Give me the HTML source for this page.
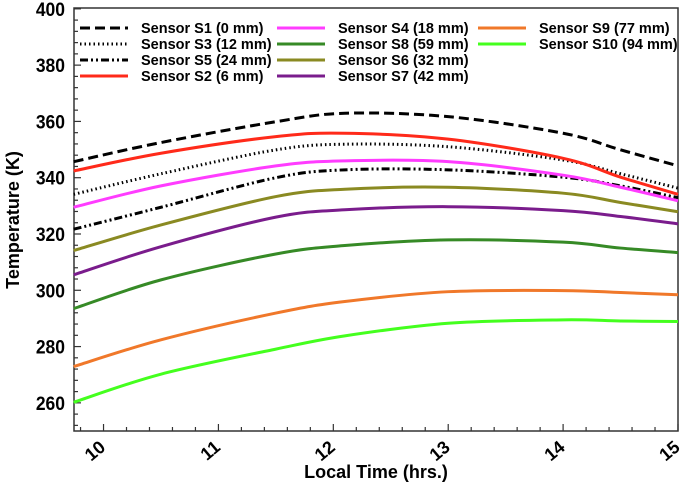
<!DOCTYPE html>
<html><head><meta charset="utf-8"><style>
body{margin:0;background:#fff;}
svg{display:block;font-family:"Liberation Sans",Arial,sans-serif;font-weight:bold;}
</style></head><body>
<svg id="chart" width="685" height="493"></svg>
<script>
const times = [9.74, 10.5, 11.5, 12.1, 13, 14, 14.5, 15];
const s1 = [345.7, 352.5, 359.9, 362.9, 361.7, 355.8, 349.9, 344.2];
const s2 = [342.4, 348.7, 354.6, 355.8, 353.7, 346.9, 340.2, 334.1];
const s3 = [334.1, 341.4, 349.9, 351.9, 351.0, 346.3, 341.4, 336.3];
const s4 = [329.5, 337.1, 344.2, 346.0, 345.7, 340.9, 336.6, 331.8];
const s5 = [321.7, 329.5, 340.0, 342.8, 342.8, 340.2, 337.1, 332.9];
const s6 = [314.1, 323.2, 333.3, 335.9, 336.6, 334.5, 331.2, 327.9];
const s7 = [305.5, 315.5, 326.0, 328.6, 329.7, 328.3, 326.2, 323.6];
const s8 = [293.5, 303.7, 312.9, 315.9, 317.9, 317.1, 315.0, 313.4];
const s9 = [272.9, 282.4, 291.9, 296.0, 299.5, 299.9, 299.2, 298.4];
const s10 = [260.2, 270.2, 279.1, 283.8, 288.3, 289.5, 289.1, 288.9];
const yTicks = [260, 280, 300, 320, 340, 360, 380, 400];
const xTicks = [10, 11, 12, 13, 14, 15];

const NS = "http://www.w3.org/2000/svg";
const svg = document.getElementById('chart');
const L = 74, R = 678, T = 8, B = 431;
const xMin = 9.743, xMax = 15, yMin = 250, yMax = 400.3;
const xs = v => L + (v - xMin) / (xMax - xMin) * (R - L);
const ys = v => B - (v - yMin) / (yMax - yMin) * (B - T);
function mk(tag, attrs, parent) {
  const e = document.createElementNS(NS, tag);
  for (const k in attrs) e.setAttribute(k, attrs[k]);
  (parent || svg).appendChild(e);
  return e;
}
function pathFor(xv, yv) {
  const p = xv.map((x, i) => [xs(x), ys(yv[i])]);
  let d = `M${p[0][0]},${p[0][1]}`;
  for (let i = 0; i < p.length - 1; i++) {
    const p0 = p[Math.max(0, i - 1)], p1 = p[i], p2 = p[i + 1], p3 = p[Math.min(p.length - 1, i + 2)];
    const c1 = [p1[0] + (p2[0] - p0[0]) / 6, p1[1] + (p2[1] - p0[1]) / 6];
    const c2 = [p2[0] - (p3[0] - p1[0]) / 6, p2[1] - (p3[1] - p1[1]) / 6];
    d += ` C${c1[0]},${c1[1]} ${c2[0]},${c2[1]} ${p2[0]},${p2[1]}`;
  }
  return d;
}
const frame = mk('rect', {x: L, y: T, width: R - L, height: B - T, fill: 'none', stroke: '#333', 'stroke-width': 1.5});


for (let v = 252; v <= 400; v += 4) {
  const major = yTicks.includes(v);
  mk('line', {x1: L, x2: L + (major ? 7 : 4), y1: ys(v), y2: ys(v), stroke: '#333', 'stroke-width': 1.2});
}
yTicks.forEach(v => {
  const t = mk('text', {x: 65, y: ys(v) + 7, 'text-anchor': 'end', 'font-size': 19, transform: `scale(0.92 1)`, 'transform-origin': `65 ${ys(v)}`});
  t.textContent = v;
  
  
});
for (let v = 9.8; v <= 15.001; v += 0.2) {
  const major = Math.abs(v - Math.round(v)) < 0.01;
  mk('line', {x1: xs(v), x2: xs(v), y1: B, y2: B - (major ? 7 : 4), stroke: '#333', 'stroke-width': 1.2});
}
xTicks.forEach(v => {
  const t = mk('text', {x: xs(v) + 3, y: 449, 'text-anchor': 'end', 'font-size': 18, transform: `rotate(-40 ${xs(v) + 3} 449)`});
  t.textContent = v;
  
  
});
const xt = mk('text', {x: 376, y: 478, 'text-anchor': 'middle', 'font-size': 18});
xt.textContent = 'Local Time (hrs.)';


const yt = mk('text', {x: 19, y: 220, 'text-anchor': 'middle', 'font-size': 18, transform: 'rotate(-90 19 220)'});
yt.textContent = 'Temperature (K)';



const series = [
  {n: 'Sensor S1 (0 mm)', v: s1, c: '#000', dash: '10,5', col: 0, row: 0},
  {n: 'Sensor S3 (12 mm)', v: s3, c: '#000', dash: '1.5,3', col: 0, row: 1},
  {n: 'Sensor S5 (24 mm)', v: s5, c: '#000', dash: '8,3,2,3,2,3', col: 0, row: 2},
  {n: 'Sensor S2 (6 mm)', v: s2, c: '#ff2a1a', dash: '', col: 0, row: 3},
  {n: 'Sensor S4 (18 mm)', v: s4, c: '#ff3cff', dash: '', col: 1, row: 0},
  {n: 'Sensor S8 (59 mm)', v: s8, c: '#368a26', dash: '', col: 1, row: 1},
  {n: 'Sensor S6 (32 mm)', v: s6, c: '#8a8a22', dash: '', col: 1, row: 2},
  {n: 'Sensor S7 (42 mm)', v: s7, c: '#7a1c8c', dash: '', col: 1, row: 3},
  {n: 'Sensor S9 (77 mm)', v: s9, c: '#f0782a', dash: '', col: 2, row: 0},
  {n: 'Sensor S10 (94 mm)', v: s10, c: '#44ff1e', dash: '', col: 2, row: 1}
];
const colX = [80, 277, 478];
const rowY = [28, 44, 60, 76];
series.forEach(s => {
  const p = mk('path', {d: pathFor(times, s.v), fill: 'none', stroke: s.c, 'stroke-width': 3, 'stroke-dasharray': s.dash});
  
  
  const lx = colX[s.col], ly = rowY[s.row];
  const ll = mk('line', {x1: lx, x2: lx + 48, y1: ly, y2: ly, stroke: s.c, 'stroke-width': 3, 'stroke-dasharray': s.dash});
  
  
  const lt = mk('text', {x: lx + 61, y: ly + 5, 'font-size': 14.5});
  lt.textContent = s.n;
  
  
});
</script>
</body></html>
